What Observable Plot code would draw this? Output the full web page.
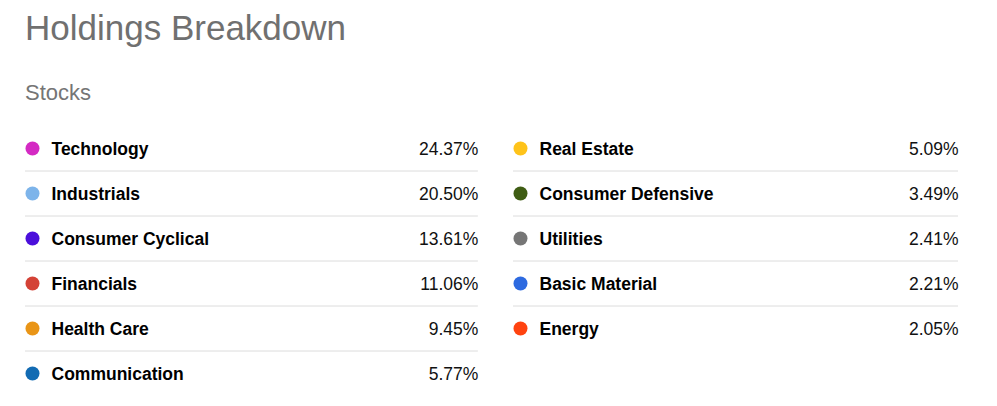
<!DOCTYPE html>
<html>
<head>
<meta charset="utf-8">
<script src="https://cdn.jsdelivr.net/npm/d3@7"></script>
<script src="https://cdn.jsdelivr.net/npm/@observablehq/plot@0.6"></script>
<style>
  html, body { margin: 0; padding: 0; background: #fff; }
  body { width: 997px; height: 406px; overflow: hidden; font-family: "Liberation Sans", Arial, sans-serif; }
  #title { margin: 8px 0 0 25px; font-size: 35px; line-height: 40px; color: #707070; font-weight: normal; }
  #subtitle { margin: 32px 0 0 25px; font-size: 22px; line-height: 26px; color: #757575; }
  #chart { position: absolute; left: 0; top: 110px; }
</style>
</head>
<body>
<div id="title">Holdings Breakdown</div>
<div id="subtitle">Stocks</div>
<div id="chart"></div>
<script>
const sectors = ["Technology", "Industrials", "Consumer Cyclical", "Financials", "Health Care", "Communication",
                 "Real Estate", "Consumer Defensive", "Utilities", "Basic Material", "Energy"];
const weights = [24.37, 20.50, 13.61, 11.06, 9.45, 5.77, 5.09, 3.49, 2.41, 2.21, 2.05];
const sectorColors = ["#d42ac3", "#7db4ea", "#4b0fdb", "#d44236", "#e99517", "#126bb3",
                      "#fec31a", "#3f5d14", "#767676", "#2d6ae0", "#ff4310"];

const rowsPerColumn = 6;
const colSpan = [0.928, 0.912];

const rows = sectors.map((s, i) => ({
  sector: s,
  weight: weights[i],
  col: Math.floor(i / rowsPerColumn),
  row: i % rowsPerColumn
}));
const seps = rows.filter((d, i) => i + 1 < rows.length && rows[i + 1].col === d.col);

const chart = Plot.plot({
  width: 997,
  height: 296,
  margin: 0,
  x: {type: "linear", domain: [0, 1], range: [25, 513], axis: null},
  y: {type: "linear", domain: [0, 5], range: [38, 263], axis: null},
  color: {domain: sectors, range: sectorColors},
  style: {fontFamily: "'Liberation Sans', Arial, sans-serif", background: "#fff", overflow: "visible"},
  marks: [
    Plot.ruleY(seps, {y: d => d.row + 0.5, x1: "col", x2: d => d.col + colSpan[d.col], stroke: "#dcdcdc", strokeWidth: 1}),
    Plot.dot(rows, {x: "col", y: "row", r: 7, fill: "sector", dx: 7}),
    Plot.text(rows, {x: "col", y: "row", text: "sector", textAnchor: "start", dx: 26, dy: 1,
                     fontSize: 17.5, fontWeight: "bold", fill: "#000"}),
    Plot.text(rows, {x: d => d.col + colSpan[d.col], y: "row", text: d => d.weight.toFixed(2) + "%",
                     textAnchor: "end", dy: 1, fontSize: 17.5, fill: "#111"})
  ]
});
document.getElementById("chart").appendChild(chart);
</script>
</body>
</html>
